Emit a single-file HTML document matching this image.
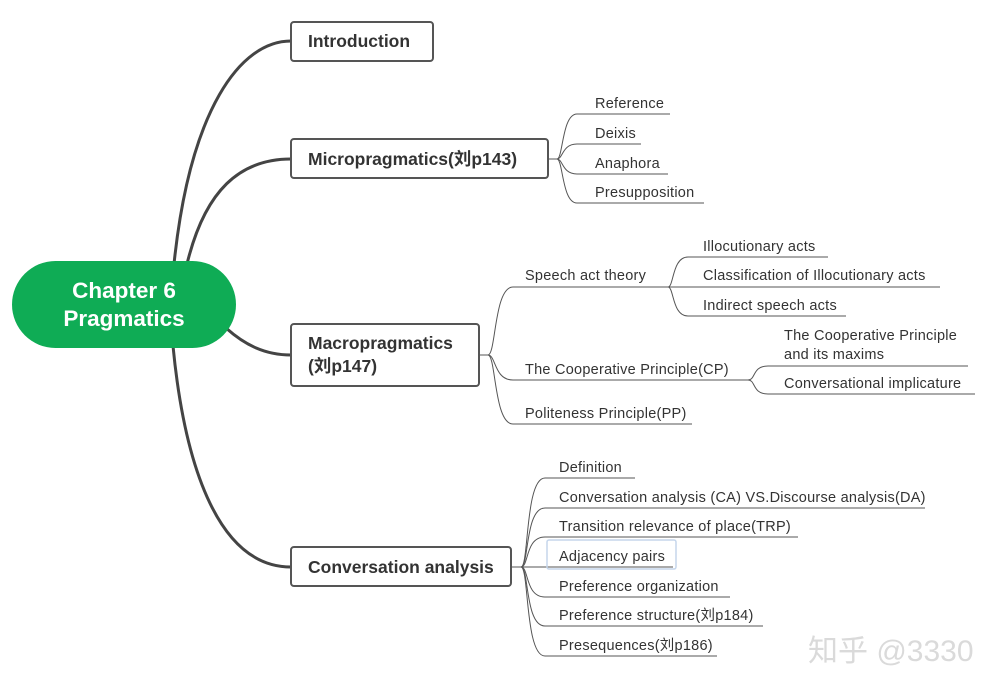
<!DOCTYPE html>
<html><head><meta charset="utf-8"><style>
html,body{margin:0;padding:0;background:#fff;}
svg{display:block;}
text{font-family:"Liberation Sans","Noto Sans CJK SC",sans-serif;}
.t{font-size:14.5px;fill:#333;letter-spacing:0.25px;}
.b{font-size:17.5px;font-weight:bold;fill:#333;letter-spacing:0px;}
.thin{fill:none;stroke:#555;stroke-width:1;}
.thick{fill:none;stroke:#444;stroke-width:3;}
.box{fill:#fff;stroke:#555;stroke-width:2;}
</style></head><body>
<svg width="1000" height="690" viewBox="0 0 1000 690" xmlns="http://www.w3.org/2000/svg">
<rect width="1000" height="690" fill="#fff"/>
<path class="thick" d="M174,264 C190,110 240,41 291,41"/>
<path class="thick" d="M187,264 C205,190 240,159 291,159"/>
<path class="thick" d="M226,328 C245,345 265,355 291,355"/>
<path class="thick" d="M173,346 C185,470 220,567 291,567"/>
<rect x="12" y="261" width="224" height="87" rx="43.5" fill="#0fac55"/>
<text x="124" y="298" text-anchor="middle" font-size="22.5" font-weight="bold" fill="#fff">Chapter 6</text>
<text x="124" y="326" text-anchor="middle" font-size="22.5" font-weight="bold" fill="#fff">Pragmatics</text>
<rect class="box" x="291" y="22" width="142" height="39" rx="3"/>
<text class="b" x="308" y="47">Introduction</text>
<rect class="box" x="291" y="139" width="257" height="39" rx="3"/>
<text class="b" x="308" y="165">Micropragmatics(刘p143)</text>
<rect class="box" x="291" y="324" width="188" height="62" rx="3"/>
<text class="b" x="308" y="349">Macropragmatics</text>
<text class="b" x="308" y="372">(刘p147)</text>
<rect class="box" x="291" y="547" width="220" height="39" rx="3"/>
<text class="b" x="308" y="573">Conversation analysis</text>
<path class="thin" d="M548,159 L557,159"/>
<path class="thin" d="M557,159 C563,159 562,114 577,114 L670,114"/>
<path class="thin" d="M557,159 C563,159 562,144 577,144 L641,144"/>
<path class="thin" d="M557,159 C563,159 562,174 577,174 L668,174"/>
<path class="thin" d="M557,159 C563,159 562,203 577,203 L704,203"/>
<text class="t" x="595" y="108">Reference</text>
<text class="t" x="595" y="138">Deixis</text>
<text class="t" x="595" y="168">Anaphora</text>
<text class="t" x="595" y="197">Presupposition</text>
<path class="thin" d="M479,355 L488,355"/>
<path class="thin" d="M488,355 C496,355 494,287 513,287 L668,287"/>
<path class="thin" d="M488,355 C496,355 494,380 513,380 L748,380"/>
<path class="thin" d="M488,355 C496,355 494,424 513,424 L692,424"/>
<text class="t" x="525" y="280">Speech act theory</text>
<text class="t" x="525" y="374">The Cooperative Principle(CP)</text>
<text class="t" x="525" y="418">Politeness Principle(PP)</text>
<path class="thin" d="M668,287 C674,287 672,257 688,257 L828,257"/>
<path class="thin" d="M668,287 L940,287"/>
<path class="thin" d="M668,287 C674,287 672,316 688,316 L846,316"/>
<text class="t" x="703" y="251">Illocutionary acts</text>
<text class="t" x="703" y="280">Classification of Illocutionary acts</text>
<text class="t" x="703" y="310">Indirect speech acts</text>
<path class="thin" d="M748,380 C756,380 752,366 768,366 L968,366"/>
<path class="thin" d="M748,380 C756,380 752,394 768,394 L975,394"/>
<text class="t" x="784" y="340">The Cooperative Principle</text>
<text class="t" x="784" y="359">and its maxims</text>
<text class="t" x="784" y="388">Conversational implicature</text>
<path class="thin" d="M511,567 L521,567"/>
<path class="thin" d="M521,567 C529,567 525,478 545,478 L635,478"/>
<path class="thin" d="M521,567 C529,567 525,508 545,508 L925,508"/>
<path class="thin" d="M521,567 C529,567 525,537 545,537 L798,537"/>
<path class="thin" d="M521,567 L673,567"/>
<path class="thin" d="M521,567 C529,567 525,597 545,597 L730,597"/>
<path class="thin" d="M521,567 C529,567 525,626 545,626 L763,626"/>
<path class="thin" d="M521,567 C529,567 525,656 545,656 L717,656"/>
<rect x="547" y="540" width="129" height="29" fill="none" stroke="#c5d6ec" stroke-width="1.5" rx="2"/>
<text class="t" x="559" y="472">Definition</text>
<text class="t" x="559" y="502">Conversation analysis (CA) VS.Discourse analysis(DA)</text>
<text class="t" x="559" y="531">Transition relevance of place(TRP)</text>
<text class="t" x="559" y="561">Adjacency pairs</text>
<text class="t" x="559" y="591">Preference organization</text>
<text class="t" x="559" y="620">Preference structure(刘p184)</text>
<text class="t" x="559" y="650">Presequences(刘p186)</text>
<text x="808" y="661" font-size="30" fill="#dadada" font-family="'Liberation Sans','Noto Sans CJK SC',sans-serif">知乎 @3330</text>
</svg>
</body></html>
